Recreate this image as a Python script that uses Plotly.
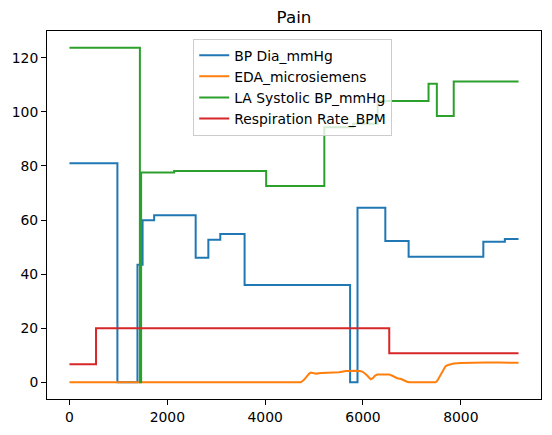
import plotly.graph_objects as go

# BP Dia_mmHg (step change points)
bp_dia_t = [0, 980, 1390, 1495, 1731, 2580, 2839, 3083, 3580, 5737, 5888, 6457, 6933, 8460, 8900, 9180]
bp_dia_v = [81.0, 0.0, 43.5, 59.9, 61.8, 46.0, 52.7, 54.8, 36.0, 0.0, 64.5, 52.2, 46.4, 52.0, 53.0, 53.0]

# EDA_microsiemens
eda_t = [0, 4730, 4790, 4850, 4900, 4937, 4990, 5039, 5150, 5300, 5513, 5650, 5800, 5887, 5960, 6002, 6080, 6130,
         6158, 6200, 6250, 6294, 6400, 6532, 6600, 6650, 6700, 6780, 6837, 6900, 6939,
         7483, 7520, 7550, 7585, 7640, 7687, 7740, 7800, 7856, 8000, 8230, 8500, 8774, 9180]
eda_v = [0.0, 0.0, 0.8, 2.2, 3.2, 3.6, 3.4, 3.2, 3.4, 3.5, 3.7, 4.2, 4.3, 4.3, 4.1, 3.8, 2.6, 1.6,
         1.1, 1.5, 2.5, 2.9, 2.9, 2.9, 2.4, 1.8, 1.5, 1.2, 0.6, 0.2, 0.0,
         0.0, 0.6, 1.6, 2.8, 4.6, 5.9, 6.4, 6.7, 6.9, 7.1, 7.3, 7.3, 7.3, 7.2]

# LA Systolic BP_mmHg (step change points)
la_sys_t = [0, 1440, 1465, 2140, 4021, 5210, 5800, 6300, 7340, 7510, 7855, 9180]
la_sys_v = [123.7, 0.0, 77.6, 78.1, 72.6, 94.3, 95.6, 104.0, 110.4, 98.5, 111.2, 111.2]

# Respiration Rate_BPM (step change points)
resp_t = [0, 543, 6537, 9180]
resp_v = [6.7, 20.0, 10.7, 10.7]

colors = ["#1f77b4", "#ff7f0e", "#2ca02c", "#d62728"]

fig = go.Figure()
fig.add_trace(go.Scatter(x=bp_dia_t, y=bp_dia_v, mode="lines", name="BP Dia_mmHg",
                         line=dict(color=colors[0], width=2, shape="hv")))
fig.add_trace(go.Scatter(x=eda_t, y=eda_v, mode="lines", name="EDA_microsiemens",
                         line=dict(color=colors[1], width=2, shape="linear")))
fig.add_trace(go.Scatter(x=la_sys_t, y=la_sys_v, mode="lines", name="LA Systolic BP_mmHg",
                         line=dict(color=colors[2], width=2, shape="hv")))
fig.add_trace(go.Scatter(x=resp_t, y=resp_v, mode="lines", name="Respiration Rate_BPM",
                         line=dict(color=colors[3], width=2, shape="hv")))

all_x = bp_dia_t + eda_t + la_sys_t + resp_t
all_y = bp_dia_v + eda_v + la_sys_v + resp_v
xmin, xmax = min(all_x), max(all_x)
ymin, ymax = min(all_y), max(all_y)
xm = 0.05 * (xmax - xmin)
ym = 0.05 * (ymax - ymin)

axis_common = dict(showline=True, mirror=True, linecolor="black", linewidth=1,
                   ticks="outside", ticklen=5, tickwidth=1, tickcolor="black",
                   showgrid=False, zeroline=False,
                   tickfont=dict(family="DejaVu Sans", size=13.9, color="black"))

fig.update_layout(
    width=552, height=435,
    margin=dict(l=47, r=10, t=31, b=33),
    paper_bgcolor="white", plot_bgcolor="white",
    font=dict(family="DejaVu Sans", size=13.9, color="black"),
    title=dict(text="Pain", x=0.5, xref="paper", xanchor="center",
               y=1 - 17.5 / 435, yref="container", yanchor="middle",
               font=dict(family="DejaVu Sans", size=16.7, color="black")),
    xaxis=dict(range=[xmin - xm, xmax + xm], tickvals=[0, 2000, 4000, 6000, 8000],
               tickformat="d", **axis_common),
    yaxis=dict(range=[ymin - ym, ymax + ym], tickvals=[0, 20, 40, 60, 80, 100, 120],
               **axis_common),
    legend=dict(x=0.296, y=0.979, xanchor="left", yanchor="top",
                bgcolor="rgba(255,255,255,0.8)", bordercolor="#cccccc", borderwidth=1,
                font=dict(family="DejaVu Sans", size=13.9, color="black"),
                itemwidth=30, tracegroupgap=0),
    showlegend=True,
    hovermode=False,
)

fig.write_html("out.html",
               config={"displayModeBar": False, "staticPlot": True},
               post_script="document.body.style.margin='0';document.body.style.padding='0';"
                           "document.body.style.overflow='hidden';")
